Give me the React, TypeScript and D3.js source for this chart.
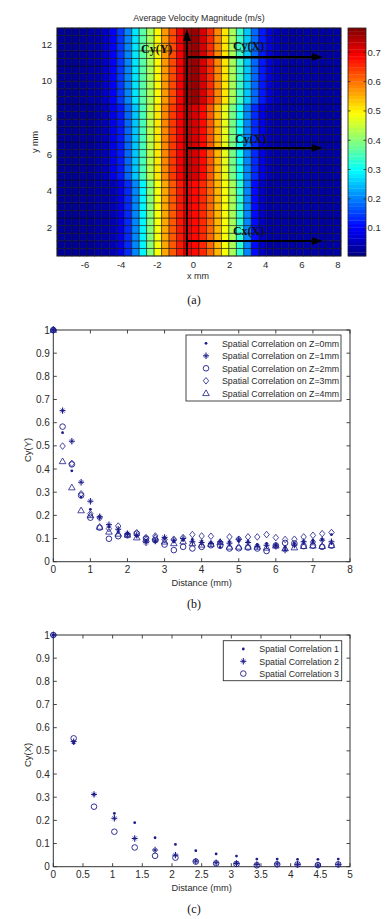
import React from "react";
import * as d3 from "d3";

const FONT = "'Liberation Sans', Arial, Helvetica, sans-serif";
const SERIF = "'Liberation Serif', 'Times New Roman', serif";
const MARK = "#1c1c8a";
const INK = "#2a2a2a";

// ---------------- Panel (a) data ----------------
const heatXRange = [-7.55, 8.17];
const heatYRange = [0.46, 12.89];
const heatNCols = 38;
const heatNRows = 30;
// column profiles (m/s), left to right, for three horizontal bands
const profileBottom = [0.025, 0.025, 0.025, 0.025, 0.025, 0.03, 0.035, 0.05, 0.08, 0.13, 0.2, 0.29, 0.4, 0.49, 0.56, 0.62, 0.67, 0.69, 0.68, 0.66, 0.61, 0.55, 0.49, 0.42, 0.33, 0.21, 0.11, 0.06, 0.04, 0.03, 0.03, 0.03, 0.03, 0.03, 0.03, 0.03, 0.03, 0.03];
const profileMiddle = [0.025, 0.025, 0.025, 0.025, 0.025, 0.035, 0.05, 0.08, 0.12, 0.18, 0.26, 0.35, 0.44, 0.51, 0.58, 0.64, 0.69, 0.73, 0.72, 0.68, 0.62, 0.55, 0.47, 0.39, 0.3, 0.21, 0.13, 0.08, 0.05, 0.04, 0.03, 0.03, 0.03, 0.03, 0.03, 0.03, 0.03, 0.03];
const profileTop = [0.025, 0.02, 0.02, 0.025, 0.03, 0.04, 0.06, 0.1, 0.15, 0.21, 0.28, 0.36, 0.43, 0.5, 0.57, 0.63, 0.69, 0.75, 0.76, 0.72, 0.65, 0.58, 0.51, 0.43, 0.34, 0.25, 0.18, 0.12, 0.07, 0.05, 0.04, 0.035, 0.03, 0.03, 0.03, 0.03, 0.03, 0.03];
// band used by each row, bottom to top
const heatRowBand = [0, 0, 0, 0, 0, 0, 0, 0, 0, 0, 1, 1, 1, 1, 1, 1, 1, 1, 1, 1, 2, 2, 2, 2, 2, 2, 2, 2, 2, 2];
const heatXTicks = [-6, -4, -2, 0, 2, 4, 6, 8];
const heatYTicks = [2, 4, 6, 8, 10, 12];
const cbarRange = [0.005, 0.783];
const cbarTicks = [0.1, 0.2, 0.3, 0.4, 0.5, 0.6, 0.7];
const arrowX = -0.36;
const arrowRowsY = [11.31, 6.35, 1.28];
const arrowEndX = 7.17;
const annotLabels = ["Cy(Y)", "Cy(X)", "Cy(X)", "Cx(X)"];
const annotX = [-2.9, 2.19, 2.3, 2.19];
const annotY = [11.53, 11.69, 6.62, 1.6];

// ---------------- Panel (b) data ----------------
const distB = [0, 0.25, 0.5, 0.75, 1, 1.25, 1.5, 1.75, 2, 2.25, 2.5, 2.75, 3, 3.25, 3.5, 3.75, 4, 4.25, 4.5, 4.75, 5, 5.25, 5.5, 5.75, 6, 6.25, 6.5, 6.75, 7, 7.25, 7.5];
const corrZ0 = [1, 0.557, 0.392, 0.279, 0.226, 0.19, 0.15, 0.129, 0.118, 0.11, 0.093, 0.086, 0.1, 0.086, 0.093, 0.096, 0.089, 0.083, 0.062, 0.086, 0.088, 0.086, 0.075, 0.079, 0.07, 0.062, 0.08, 0.086, 0.093, 0.097, 0.117];
const corrZ1 = [1, 0.652, 0.52, 0.343, 0.261, 0.194, 0.16, 0.14, 0.121, 0.114, 0.082, 0.089, 0.105, 0.093, 0.1, 0.086, 0.083, 0.079, 0.086, 0.08, 0.097, 0.083, 0.067, 0.071, 0.067, 0.05, 0.072, 0.086, 0.085, 0.093, 0.086];
const corrZ2 = [1, 0.583, 0.42, 0.286, 0.19, 0.147, 0.099, 0.11, 0.114, 0.121, 0.1, 0.093, 0.074, 0.05, 0.064, 0.057, 0.064, 0.071, 0.069, 0.057, 0.058, 0.061, 0.057, 0.046, 0.07, 0.081, 0.079, 0.067, 0.069, 0.064, 0.069];
const corrZ3 = [1, 0.499, 0.424, 0.293, 0.207, 0.189, 0.143, 0.154, 0.118, 0.125, 0.104, 0.111, 0.096, 0.097, 0.104, 0.117, 0.111, 0.11, 0.083, 0.107, 0.097, 0.107, 0.107, 0.117, 0.104, 0.096, 0.097, 0.107, 0.114, 0.121, 0.126];
const corrZ4 = [1, 0.433, 0.32, 0.221, 0.2, 0.15, 0.129, 0.12, 0.116, 0.104, 0.096, 0.104, 0.086, 0.079, 0.087, 0.079, 0.073, 0.076, 0.083, 0.064, 0.064, 0.064, 0.064, 0.06, 0.069, 0.057, 0.061, 0.067, 0.069, 0.067, 0.071];
const labelsB = ["Spatial Correlation on Z=0mm", "Spatial Correlation on Z=1mm", "Spatial Correlation on Z=2mm", "Spatial Correlation on Z=3mm", "Spatial Correlation on Z=4mm"];
const markersB = ["dot", "star", "circle", "diamond", "triangle"];
const xTicksB = [0, 1, 2, 3, 4, 5, 6, 7, 8];

// ---------------- Panel (c) data ----------------
const distC = [0, 0.343, 0.686, 1.029, 1.372, 1.715, 2.058, 2.401, 2.744, 3.087, 3.43, 3.773, 4.116, 4.459, 4.802];
const corr1 = [1, 0.533, 0.312, 0.23, 0.19, 0.125, 0.096, 0.069, 0.055, 0.046, 0.033, 0.033, 0.032, 0.032, 0.033];
const corr2 = [1, 0.54, 0.312, 0.209, 0.122, 0.072, 0.05, 0.024, 0.017, 0.014, 0.01, 0.012, 0.01, 0.007, 0.01];
const corr3 = [1, 0.554, 0.259, 0.151, 0.083, 0.047, 0.039, 0.022, 0.014, 0.012, 0.006, 0.01, 0.01, 0.007, 0.01];
const labelsC = ["Spatial Correlation 1", "Spatial Correlation 2", "Spatial Correlation 3"];
const markersC = ["dot", "star", "circle"];
const xTicksC = [0, 0.5, 1, 1.5, 2, 2.5, 3, 3.5, 4, 4.5, 5];

const yTicksCorr = [0, 0.1, 0.2, 0.3, 0.4, 0.5, 0.6, 0.7, 0.8, 0.9, 1];

function jet(t: number) {
  const cl = (v: number) => Math.max(0, Math.min(1, v));
  const r = cl(1.5 - Math.abs(4 * t - 3));
  const g = cl(1.5 - Math.abs(4 * t - 2));
  const b = cl(1.5 - Math.abs(4 * t - 1));
  return d3.rgb(r * 255, g * 255, b * 255).formatHex();
}

function Marker({ type, cx, cy }: { type: string; cx: number; cy: number }) {
  if (type === "dot") return <circle cx={cx} cy={cy} r={1.4} fill={MARK} />;
  if (type === "circle") return <circle cx={cx} cy={cy} r={2.8} fill="none" stroke={MARK} strokeWidth={0.9} />;
  if (type === "star")
    return (
      <g stroke={MARK} strokeWidth={1.1}>
        <line x1={cx - 3} y1={cy} x2={cx + 3} y2={cy} />
        <line x1={cx} y1={cy - 3.2} x2={cx} y2={cy + 3.2} />
        <line x1={cx - 2} y1={cy - 2} x2={cx + 2} y2={cy + 2} strokeWidth={0.7} />
        <line x1={cx - 2} y1={cy + 2} x2={cx + 2} y2={cy - 2} strokeWidth={0.7} />
      </g>
    );
  if (type === "diamond")
    return (
      <polygon
        points={`${cx},${cy - 3.3} ${cx + 2.7},${cy} ${cx},${cy + 3.3} ${cx - 2.7},${cy}`}
        fill="none"
        stroke={MARK}
        strokeWidth={0.8}
      />
    );
  return (
    <polygon
      points={`${cx},${cy - 3.4} ${cx + 3.3},${cy + 2.3} ${cx - 3.3},${cy + 2.3}`}
      fill="none"
      stroke={MARK}
      strokeWidth={0.8}
    />
  );
}

function Heatmap() {
  const L = 57, R = 341, T = 28, B = 256;
  const x = d3.scaleLinear().domain(heatXRange).range([L, R]);
  const y = d3.scaleLinear().domain(heatYRange).range([B, T]);
  const norm = d3.scaleLinear().domain(cbarRange).range([0, 1]).clamp(true);
  const levels = 64;
  const colorOf = (v: number) => jet((Math.min(levels - 1, Math.floor(norm(v) * levels)) + 0.5) / levels);
  const dx = (heatXRange[1] - heatXRange[0]) / heatNCols;
  const dy = (heatYRange[1] - heatYRange[0]) / heatNRows;
  const profiles = [profileBottom, profileMiddle, profileTop];
  const cells: JSX.Element[] = [];
  for (let r = 0; r < heatNRows; r++) {
    const prof = profiles[heatRowBand[r]];
    for (let c = 0; c < heatNCols; c++) {
      const x0 = x(heatXRange[0] + c * dx);
      const x1 = x(heatXRange[0] + (c + 1) * dx);
      const y1 = y(heatYRange[0] + r * dy);
      const y0 = y(heatYRange[0] + (r + 1) * dy);
      cells.push(
        <rect key={`${r}-${c}`} x={x0} y={y0} width={x1 - x0} height={y1 - y0} fill={colorOf(prof[c])} stroke="#101010" strokeOpacity={0.6} strokeWidth={0.9} />
      );
    }
  }
  // colorbar
  const CL = 348, CR = 366;
  const cy = d3.scaleLinear().domain(cbarRange).range([B, T]);
  const cbar: JSX.Element[] = [];
  for (let i = 0; i < levels; i++) {
    const v0 = cbarRange[0] + (i * (cbarRange[1] - cbarRange[0])) / levels;
    const v1 = cbarRange[0] + ((i + 1) * (cbarRange[1] - cbarRange[0])) / levels;
    cbar.push(<rect key={i} x={CL} y={cy(v1)} width={CR - CL} height={cy(v0) - cy(v1) + 0.3} fill={jet((i + 0.5) / levels)} />);
  }
  const ax = x(arrowX);
  return (
    <g>
      <text x={(L + R) / 2} y={21} textAnchor="middle" fontFamily={FONT} fontSize={8.8} fill={INK}>
        Average Velocity Magnitude (m/s)
      </text>
      {cells}
      <rect x={L} y={T} width={R - L} height={B - T} fill="none" stroke="#222" strokeWidth={0.8} />
      {heatXTicks.map((t) => (
        <text key={t} x={x(t)} y={B + 12} textAnchor="middle" fontFamily={FONT} fontSize={9.5} fill={INK}>
          {t}
        </text>
      ))}
      {heatYTicks.map((t) => (
        <text key={t} x={L - 5} y={y(t) + 3.3} textAnchor="end" fontFamily={FONT} fontSize={9.5} fill={INK}>
          {t}
        </text>
      ))}
      <text x={198} y={279} textAnchor="middle" fontFamily={FONT} fontSize={9} fill={INK}>
        x mm
      </text>
      <text transform={`translate(38,${(T + B) / 2}) rotate(-90)`} textAnchor="middle" fontFamily={FONT} fontSize={9} fill={INK}>
        y mm
      </text>
      {/* arrows */}
      <line x1={ax} y1={B} x2={ax} y2={y(12.6)} stroke="#000" strokeWidth={2} />
      <polygon points={`${ax},${y(12.84)} ${ax - 4},${y(12.84) + 12} ${ax + 4},${y(12.84) + 12}`} fill="#000" />
      {arrowRowsY.map((ry) => (
        <g key={ry}>
          <line x1={ax} y1={y(ry)} x2={x(arrowEndX) - 6} y2={y(ry)} stroke="#000" strokeWidth={2} />
          <polygon points={`${x(arrowEndX)},${y(ry)} ${x(arrowEndX) - 11},${y(ry) - 3.8} ${x(arrowEndX) - 11},${y(ry) + 3.8}`} fill="#000" />
        </g>
      ))}
      {annotLabels.map((lab, i) => (
        <text key={i} x={x(annotX[i])} y={y(annotY[i])} fontFamily={SERIF} fontWeight="bold" fontSize={12} fill="#111">
          {lab}
        </text>
      ))}
      {/* colorbar */}
      {cbar}
      <rect x={CL} y={T} width={CR - CL} height={B - T} fill="none" stroke="#222" strokeWidth={0.8} />
      {cbarTicks.map((t) => (
        <g key={t}>
          <line x1={CL} x2={CL + 2.5} y1={cy(t)} y2={cy(t)} stroke="#222" strokeWidth={0.8} />
          <line x1={CR - 2.5} x2={CR} y1={cy(t)} y2={cy(t)} stroke="#222" strokeWidth={0.8} />
          <text x={CR + 1.5} y={cy(t) + 3.3} fontFamily={FONT} fontSize={9.5} fill={INK}>
            {t}
          </text>
        </g>
      ))}
      <text x={194} y={304} textAnchor="middle" fontFamily={SERIF} fontSize={12} fill="#111">
        (a)
      </text>
    </g>
  );
}

type ScatterProps = {
  top: number;
  bottom: number;
  xDomain: number[];
  xTicks: number[];
  dist: number[];
  series: number[][];
  markers: string[];
  labels: string[];
  yLabel: string;
  legend: { l: number; t: number; r: number; b: number; rowY0: number; rowDy: number; mx: number; tx: number };
  caption: string;
};

function ScatterPanel(p: ScatterProps) {
  const L = 53.3, R = 350;
  const x = d3.scaleLinear().domain(p.xDomain).range([L, R]);
  const y = d3.scaleLinear().domain([0, 1]).range([p.bottom, p.top]);
  const fmt = d3.format("~g");
  const tl = 3.5;
  return (
    <g>
      <rect x={L} y={p.top} width={R - L} height={p.bottom - p.top} fill="#fff" stroke="#333" strokeWidth={1} />
      {p.xTicks.map((t) => (
        <g key={"x" + t}>
          <line x1={x(t)} x2={x(t)} y1={p.bottom} y2={p.bottom - tl} stroke="#333" strokeWidth={0.9} />
          <line x1={x(t)} x2={x(t)} y1={p.top} y2={p.top + tl} stroke="#333" strokeWidth={0.9} />
          <text x={x(t)} y={p.bottom + 11.5} textAnchor="middle" fontFamily={FONT} fontSize={10} fill={INK}>
            {fmt(t)}
          </text>
        </g>
      ))}
      {yTicksCorr.map((t) => (
        <g key={"y" + t}>
          <line x1={L} x2={L + tl} y1={y(t)} y2={y(t)} stroke="#333" strokeWidth={0.9} />
          <line x1={R} x2={R - tl} y1={y(t)} y2={y(t)} stroke="#333" strokeWidth={0.9} />
          <text x={L - 3.5} y={y(t) + 3.5} textAnchor="end" fontFamily={FONT} fontSize={10} fill={INK}>
            {fmt(t)}
          </text>
        </g>
      ))}
      <text x={(L + R) / 2} y={p.bottom + 24} textAnchor="middle" fontFamily={FONT} fontSize={9.3} fill={INK}>
        Distance (mm)
      </text>
      <text transform={`translate(31,${(p.top + p.bottom) / 2 + 4}) rotate(-90)`} textAnchor="middle" fontFamily={FONT} fontSize={9.5} fill={INK}>
        {p.yLabel}
      </text>
      {p.series.map((vals, si) => (
        <g key={si}>
          {vals.map((v, i) => (
            <Marker key={i} type={p.markers[si]} cx={x(p.dist[i])} cy={y(v)} />
          ))}
        </g>
      ))}
      <rect x={p.legend.l} y={p.legend.t} width={p.legend.r - p.legend.l} height={p.legend.b - p.legend.t} fill="#fff" stroke="#333" strokeWidth={0.9} />
      {p.labels.map((lab, i) => {
        const ry = p.legend.rowY0 + i * p.legend.rowDy;
        return (
          <g key={lab}>
            <Marker type={p.markers[i]} cx={p.legend.mx} cy={ry} />
            <text x={p.legend.tx} y={ry + 3.2} fontFamily={FONT} fontSize={8.8} fill={INK}>
              {lab}
            </text>
          </g>
        );
      })}
      <text x={194} y={p.bottom + 46} textAnchor="middle" fontFamily={SERIF} fontSize={12} fill="#111">
        {p.caption}
      </text>
    </g>
  );
}

export default function App() {
  return (
    <svg width={391} height={919} style={{ position: "absolute", left: 0, top: 0, background: "#fff" }}>
      <rect x={0} y={0} width={391} height={919} fill="#fff" />
      <Heatmap />
      <ScatterPanel
        top={330}
        bottom={561.7}
        xDomain={[0, 8]}
        xTicks={xTicksB}
        dist={distB}
        series={[corrZ0, corrZ1, corrZ2, corrZ3, corrZ4]}
        markers={markersB}
        labels={labelsB}
        yLabel="Cy(Y)"
        legend={{ l: 186, t: 335, r: 341, b: 401, rowY0: 343.3, rowDy: 12.5, mx: 206, tx: 222 }}
        caption="(b)"
      />
      <ScatterPanel
        top={635}
        bottom={866.7}
        xDomain={[0, 5]}
        xTicks={xTicksC}
        dist={distC}
        series={[corr1, corr2, corr3]}
        markers={markersC}
        labels={labelsC}
        yLabel="Cy(X)"
        legend={{ l: 223.3, t: 640.7, r: 341.7, b: 680.7, rowY0: 649, rowDy: 12.3, mx: 243.3, tx: 259.3 }}
        caption="(c)"
      />
    </svg>
  );
}
